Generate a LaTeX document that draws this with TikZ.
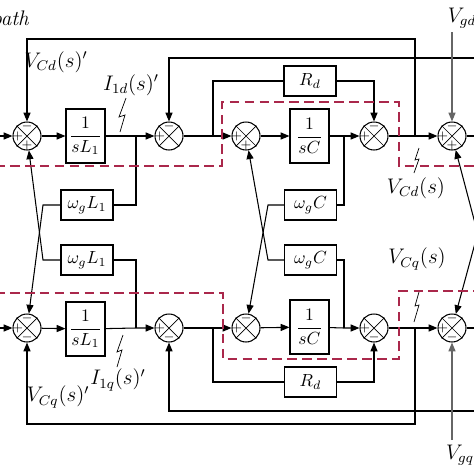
\documentclass[tikz,border=0pt]{standalone}
\usepackage{amsmath}
\usetikzlibrary{arrows.meta,calc}
\definecolor{dashred}{RGB}{170,40,75}
\begin{document}
\begin{tikzpicture}[x=0.02cm,y=-0.02cm,semithick,>={Triangle[length=5pt,width=4pt]},
  sumc/.style={circle,draw,minimum size=0.56cm,inner sep=0pt},
  tfbox/.style={draw,minimum width=0.78cm,minimum height=1.08cm,inner sep=1pt},
  gbox/.style={draw,minimum width=1.04cm,minimum height=0.6cm,inner sep=1pt},
  sgn/.style={font=\scriptsize,inner sep=0pt},
  lbl/.style={font=\large,inner sep=1pt},
  dashbox/.style={dashred,thick,dash pattern=on 5.5pt off 3pt}]
\useasboundingbox (0,0) rectangle (474,474);
\clip (0,0) rectangle (474,474);

% summing junctions
\foreach \n/\x/\y in {s1d/27/136,s2d/169/136,s3d/246/136,s4d/374/136,s5d/452/136,
                      s1q/27/328,s2q/169/328,s3q/246/328,s4q/374/328,s5q/452/328}
  \node[sumc] (\n) at (\x,\y) {};
\foreach \n in {s1d,s2d,s3d,s4d,s5d,s1q,s2q,s3q,s4q,s5q}
  \draw[thin] (\n.north east) -- (\n.south west) (\n.north west) -- (\n.south east);
\foreach \n/\a/\s in {s1d/north/-,s1d/west/+,s1d/south/+,s2d/north/-,s2d/west/+,
    s3d/west/+,s3d/south/+,s4d/north/-,s4d/west/+,s5d/north/-,s5d/west/+,s5d/south/+,
    s1q/north/-,s1q/west/+,s1q/south/-,s2q/west/+,s2q/south/-,s3q/north/-,s3q/west/+,
    s4q/west/+,s4q/south/-,s5q/north/-,s5q/west/+,s5q/south/-}
  \node[sgn] (\n-\a) at ($(\n.center)!0.64!(\n.\a)$) {$\s$};

% blocks
\node[tfbox] (L1d) at (85.5,136) {$\dfrac{1}{sL_1}$};
\node[tfbox] (L1q) at (85.5,329) {$\dfrac{1}{sL_1}$};
\node[tfbox] (Cd) at (309.5,136) {$\dfrac{1}{sC}$};
\node[tfbox] (Cq) at (309.5,327) {$\dfrac{1}{sC}$};
\node[gbox] (wL1d) at (87,205) {$\omega_g L_1$};
\node[gbox] (wL1q) at (87,260) {$\omega_g L_1$};
\node[gbox] (wCd) at (310.5,205) {$\omega_g C$};
\node[gbox] (wCq) at (310.5,260) {$\omega_g C$};
\node[gbox] (Rdd) at (310,81) {$R_d$};
\node[gbox] (Rdq) at (310.5,382) {$R_d$};

% branch points and free ends
\foreach \n/\x/\y in {jd1/136/136,jd2/213/136,jd3/344/136,jd4/415/136,
                      jq1/136/328,jq2/213/328,jq3/344/328,jq4/415/328,
                      kd1/43/205,kq1/43/260,kd3/268/205,kq3/268/260,
                      ind/-5/136,inq/-5/328,outd/480/136,outq/480/328,
                      fd1/27/39,fd2/480/58,fq1/27/424,fq2/480/411,
                      vgd/452/32,vgq/452/440,crd/490/280,crq/490/188}
  \coordinate (\n) at (\x,\y);

% d-axis path
\draw[->] (ind) -- (s1d);
\draw[->] (s1d) -- (L1d);
\draw[->] (L1d) -- (jd1) -- (s2d);
\draw[->] (s2d) -- (jd2) -- (s3d);
\draw[->] (s3d) -- (Cd);
\draw[->] (Cd) -- (jd3) -- (s4d);
\draw[->] (s4d) -- (jd4) -- (s5d);
\draw (s5d) -- (outd);
\draw[->] (jd4) |- (fd1) -- (s1d);
\draw[->] (fd2) -| (s2d);
\draw (jd2) |- (Rdd);
\draw[->] (Rdd) -| (s4d);
\draw (jd1) |- (wL1d);
\draw (jd3) |- (wCd);
\draw[->,black!60] (vgd) -- (s5d);

% q-axis path
\draw[->] (inq) -- (s1q);
\draw[->] (s1q) -- (L1q);
\draw[->] (L1q) -- (jq1) -- (s2q);
\draw[->] (s2q) -- (jq2) -- (s3q);
\draw[->] (s3q) -- (Cq);
\draw[->] (Cq) -- (jq3) -- (s4q);
\draw[->] (s4q) -- (jq4) -- (s5q);
\draw (s5q) -- (outq);
\draw[->] (jq4) |- (fq1) -- (s1q);
\draw[->] (fq2) -| (s2q);
\draw (jq2) |- (Rdq);
\draw[->] (Rdq) -| (s4q);
\draw (jq1) |- (wL1q);
\draw (jq3) |- (wCq);
\draw[->,black!60] (vgq) -- (s5q);

% cross coupling
\draw[->] (wL1d) -- (kd1) -- (s1q);
\draw[->] (wL1q) -- (kq1) -- (s1d);
\draw[->] (wCd) -- (kd3) -- (s3q);
\draw[->] (wCq) -- (kq3) -- (s3d);
\draw[->] (crd) -- (s5d);
\draw[->] (crq) -- (s5q);

% measured signals
\draw[thin] (126,98) -- ++(-7,19) -- ++(6,-2) -- ++(-5,17);
\draw[thin] (123,335) -- ++(-6,17) -- ++(5,-2) -- ++(-5,17);
\draw[thin] (419,148) -- ++(-4,12) -- ++(4,-1) -- ++(-5,14);
\draw[thin] (419,292) -- ++(-4,14) -- ++(4,-1) -- ++(-5,17);

% dashed regions
\draw[dashbox] (-5,166) -- (222,166) -- (222,102) -- (399,102) -- (399,166) -- (480,166);
\draw[dashbox] (-5,293) -- (223,293) -- (223,359) -- (399,359) -- (399,291) -- (480,291);

% labels
\node[lbl,anchor=east,font=\large\itshape] (tpath) at (31,20) {path};
\node[lbl] (lVCdp) at (56,62) {$V_{Cd}(s)'$};
\node[lbl] (lI1d) at (131,85) {$I_{1d}(s)'$};
\node[lbl] (lVCd) at (416,188) {$V_{Cd}(s)$};
\node[lbl] (lVCq) at (417,259) {$V_{Cq}(s)$};
\node[lbl] (lI1q) at (118,380) {$I_{1q}(s)'$};
\node[lbl] (lVCqp) at (58,397) {$V_{Cq}(s)'$};
\node[lbl] (lVgd) at (462,18) {$V_{gd}$};
\node[lbl] (lVgq) at (460,455) {$V_{gq}$};
\end{tikzpicture}
\end{document}
